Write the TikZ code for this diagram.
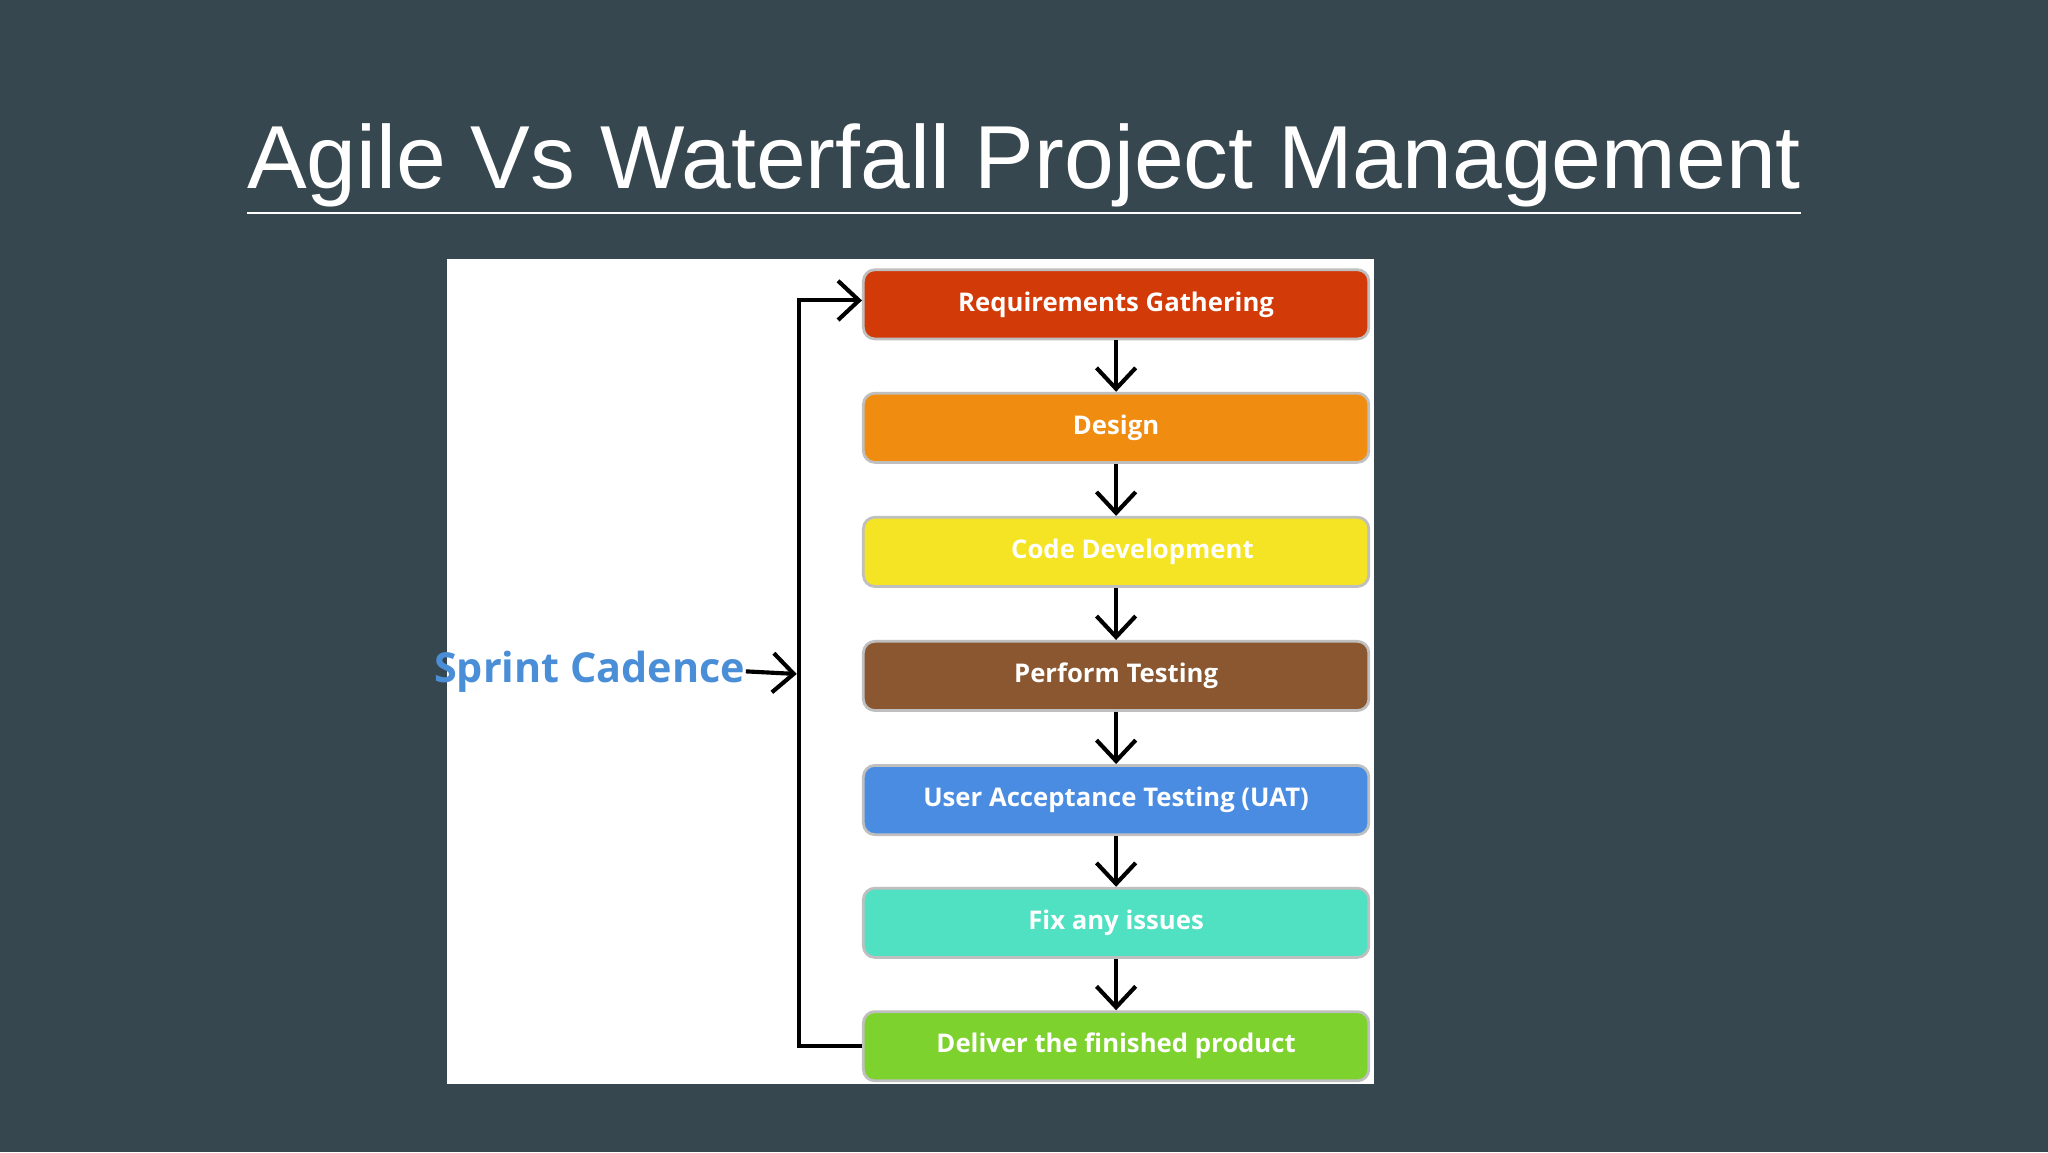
\documentclass[tikz,border=0pt]{standalone}
\usepackage{fontspec}
\setmainfont{Liberation Sans}
\newfontfamily\boxfont{Open Sans}
\usetikzlibrary{arrows.meta}
\definecolor{bg}{HTML}{37474F}
\definecolor{cRG}{HTML}{D23A08}
\definecolor{cDe}{HTML}{F08C10}
\definecolor{cCo}{HTML}{F5E424}
\definecolor{cPe}{HTML}{8A5730}
\definecolor{cUA}{HTML}{4A8CE2}
\definecolor{cFi}{HTML}{50E0C2}
\definecolor{cDl}{HTML}{7ED22E}
\definecolor{sprint}{HTML}{4A8ED8}
\tikzset{
 stepbox/.style={draw=black!25,line width=0.6pt,rounded corners=2.5pt,minimum width=3.87cm,minimum height=0.53cm,inner sep=0,text=white,font=\boxfont\fontsize{5.6}{6}\selectfont\bfseries},
 conn/.style={-{Straight Barb[length=1.6mm,width=3mm]},line width=0.9pt,black}
}
\begin{document}
\begin{tikzpicture}
\useasboundingbox (0,0) rectangle (15.68,-8.82);
\fill[bg] (0,0) rectangle (15.68,-8.82);
\node (title) at (7.84,-1.30) {\fontsize{19.5}{22}\selectfont\color{white}\underline{Agile Vs Waterfall Project Management}};
\fill[white] (3.42,-1.98) rectangle (10.52,-8.30);
\node[stepbox,fill=cRG] (rg) at (8.545,-2.33) {Requirements Gathering};
\node[stepbox,fill=cDe] (de) at (8.545,-3.275) {Design};
\node[stepbox,fill=cCo] (co) at (8.545,-4.225) {\hspace{2.5mm}Code Development};
\node[stepbox,fill=cPe] (pe) at (8.545,-5.175) {Perform Testing};
\node[stepbox,fill=cUA] (ua) at (8.545,-6.125) {User Acceptance Testing (UAT)};
\node[stepbox,fill=cFi] (fi) at (8.545,-7.065) {Fix any issues};
\node[stepbox,fill=cDl] (dl) at (8.545,-8.01) {Deliver the finished product};
\foreach \a/\b in {rg/de,de/co,co/pe,pe/ua,ua/fi,fi/dl}
  \draw[conn] (\a.south) -- (\b.north);
\coordinate (loopb) at (6.12,-8.01);
\coordinate (loopt) at (6.12,-2.30);
\draw[conn] (dl.west) -- (loopb) -- (loopt) -- ([yshift=0.03cm]rg.west);
\node[anchor=east,inner sep=0,text=sprint,font=\boxfont\fontsize{9}{10}\selectfont\bfseries] (sc) at (5.71,-5.14) {Sprint Cadence};
\coordinate (scend) at (6.10,-5.16);
\draw[conn] (sc.east) -- (scend);
\end{tikzpicture}
\end{document}
